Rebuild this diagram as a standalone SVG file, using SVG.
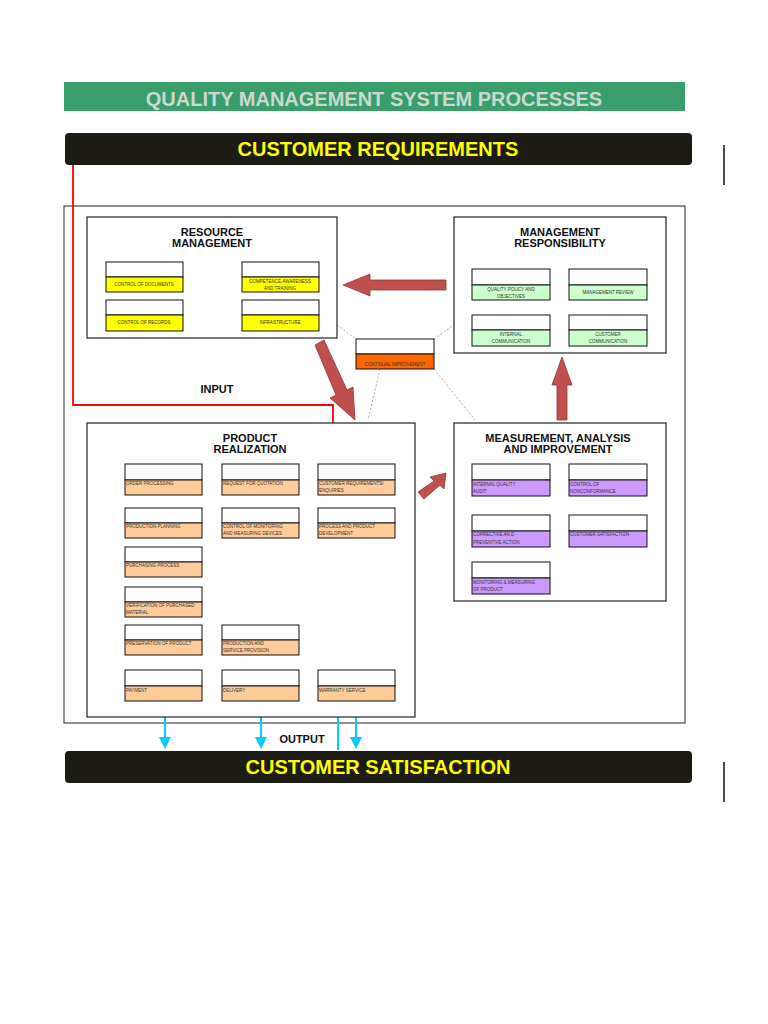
<svg xmlns="http://www.w3.org/2000/svg" width="768" height="1024" viewBox="0 0 768 1024">
<style>
text{font-family:"Liberation Sans",Arial,sans-serif}
.frame{fill:#fff;stroke:#222;stroke-width:1.2}
.t{font-weight:bold;font-size:11px;text-anchor:middle;fill:#111}
.s{font-size:4.5px;fill:#333}
.sc{font-size:4.5px;fill:#333;text-anchor:middle}
.top{fill:#fff;stroke:#111;stroke-width:1}
.y{fill:#ffff00;stroke:#111;stroke-width:1}
.g{fill:#ccffcc;stroke:#111;stroke-width:1}
.p{fill:#cc99ff;stroke:#111;stroke-width:1}
.o{fill:#ffcc99;stroke:#111;stroke-width:1}
.c{fill:#ff6600;stroke:#111;stroke-width:1}
.gl{stroke:#555;stroke-width:0.8;fill:none}
.gr{stroke:#aaa;stroke-width:1;fill:none}
.dot{stroke:#777;stroke-width:0.6;stroke-dasharray:2,2;fill:none}
.cy{stroke:#00ccff;stroke-width:2;fill:none}
.big{fill:#c0504d;stroke:#8b3a38;stroke-width:0.8}
</style>
<defs>
<marker id="ag" markerWidth="5" markerHeight="5" refX="4" refY="2.5" orient="auto"><path d="M0,0L5,2.5L0,5z" fill="#444"/></marker>
<marker id="ar" markerWidth="6" markerHeight="6" refX="5" refY="3" orient="auto"><path d="M0,0L6,3L0,6z" fill="#ff0000"/></marker>
<marker id="ac" markerWidth="6" markerHeight="6" refX="5" refY="3" orient="auto"><path d="M0,0L6,3L0,6z" fill="#00ccff"/></marker>
</defs>
<rect x="64" y="82" width="621" height="29" fill="#3a9e6a"/>
<text x="374" y="106" text-anchor="middle" font-size="20" font-weight="bold" fill="#c9d9d1">QUALITY MANAGEMENT SYSTEM PROCESSES</text>
<g id="customer-requirements"><rect x="65" y="133" width="627" height="32" rx="4" fill="#1c1b14"/>
<text x="378" y="156" text-anchor="middle" font-size="20" font-weight="bold" fill="#ffff00">CUSTOMER REQUIREMENTS</text></g>
<line x1="724" y1="145" x2="724" y2="185" stroke="#111" stroke-width="1.5"/>
<rect x="64" y="206" width="621" height="517" fill="none" stroke="#222" stroke-width="1"/>
<g id="connectors">
<path class="dot" d="M337,325L356,339M434,339L454,325M380,369L368,420M434,369L475,420"/>
<path d="M73,165V405H333V460" stroke="#ff0000" stroke-width="1.8" fill="none" marker-end="url(#ar)"/>
<path class="big" d="M446,280V290H370V296L343,285L370,274V280z"/>
<path class="big" d="M315,345L324,340L347,390L353,387L355,420L330,398L336,395z"/>
<path class="big" d="M557,420V385H552L562,357L572,385H567V420z"/>
<path class="big" d="M418,492L424,499L440,485L444,489L446,473L430,477L434,481z"/>
<path class="gl" d="M222,480H206" marker-end="url(#ag)"/>
<path class="gl" d="M318,480H300" marker-end="url(#ag)"/>
<path class="gl" d="M162,495V507M162,538V546M162,577V586M162,617V624" marker-end="url(#ag)"/>
<path class="gr" d="M260,538V623"/>
<path class="gl" d="M260,618V624" marker-end="url(#ag)"/>
<path class="gr" d="M355,538V636"/>
<path class="gl" d="M355,636H300"/>
<path class="gl" d="M202,641H221" marker-end="url(#ag)"/>
<path class="gl" d="M260,655V669" marker-end="url(#ag)"/>
<path class="gl" d="M222,686H204V684"/>
<path class="cy" d="M165,701V747" marker-end="url(#ac)"/>
<path class="cy" d="M261,701V747" marker-end="url(#ac)"/>
<path class="cy" d="M338,750V704" marker-end="url(#ac)"/>
<path class="cy" d="M356,701V747" marker-end="url(#ac)"/>
</g>
<text x="217" y="393" class="t" font-size="10">INPUT</text>
<text x="302" y="743" class="t" font-size="10">OUTPUT</text>
<g id="resource-management"><rect class="frame" x="87" y="217" width="250" height="121"/>
<text class="t" x="212" y="236">RESOURCE</text><text class="t" x="212" y="247">MANAGEMENT</text>
<rect class="top" x="106" y="262" width="77" height="15"/><rect class="y" x="106" y="277" width="77" height="15"/><text class="sc" x="144" y="286">CONTROL OF DOCUMENTS</text>
<rect class="top" x="242" y="262" width="77" height="15"/><rect class="y" x="242" y="277" width="77" height="15"/><text class="sc" x="280" y="283">COMPETENCE,AWARENESS</text><text class="sc" x="280" y="290">AND TRAINING</text>
<rect class="top" x="106" y="300" width="77" height="15"/><rect class="y" x="106" y="315" width="77" height="16"/><text class="sc" x="144" y="324">CONTROL OF RECORDS</text>
<rect class="top" x="242" y="300" width="77" height="15"/><rect class="y" x="242" y="315" width="77" height="16"/><text class="sc" x="280" y="324">INFRASTRUCTURE</text></g>
<g id="management-responsibility"><rect class="frame" x="454" y="217" width="212" height="136"/>
<text class="t" x="560" y="236">MANAGEMENT</text><text class="t" x="560" y="247">RESPONSIBILITY</text>
<rect class="top" x="472" y="269" width="78" height="16"/><rect class="g" x="472" y="285" width="78" height="15"/><text class="sc" x="511" y="291">QUALITY POLICY AND</text><text class="sc" x="511" y="298">OBJECTIVES</text>
<rect class="top" x="569" y="269" width="78" height="16"/><rect class="g" x="569" y="285" width="78" height="15"/><text class="sc" x="608" y="294">MANAGEMENT REVIEW</text>
<rect class="top" x="472" y="315" width="78" height="15"/><rect class="g" x="472" y="330" width="78" height="16"/><text class="sc" x="511" y="336">INTERNAL</text><text class="sc" x="511" y="343">COMMUNICATION</text>
<rect class="top" x="569" y="315" width="78" height="15"/><rect class="g" x="569" y="330" width="78" height="16"/><text class="sc" x="608" y="336">CUSTOMER</text><text class="sc" x="608" y="343">COMMUNICATION</text></g>
<g id="continual-improvement"><rect class="top" x="356" y="339" width="78" height="15"/><rect class="c" x="356" y="354" width="78" height="15"/><text class="sc" x="395" y="366" fill="#222">CONTINUAL IMPROVEMENT</text></g>
<g id="measurement"><rect class="frame" x="454" y="423" width="212" height="178"/>
<text class="t" x="558" y="442">MEASUREMENT, ANALYSIS</text><text class="t" x="558" y="453">AND IMPROVEMENT</text>
<rect class="top" x="472" y="464" width="78" height="16"/><rect class="p" x="472" y="480" width="78" height="16"/><text class="s" x="473" y="486">INTERNAL QUALITY</text><text class="s" x="473" y="493">AUDIT</text>
<rect class="top" x="569" y="464" width="78" height="16"/><rect class="p" x="569" y="480" width="78" height="16"/><text class="s" x="570" y="486">CONTROL OF</text><text class="s" x="570" y="493">NONCONFORMANCE</text>
<rect class="top" x="472" y="515" width="78" height="16"/><rect class="p" x="472" y="531" width="78" height="16"/><text class="s" x="473" y="536">CORRECTIVE AN D</text><text class="s" x="473" y="544">PREVENTIVE ACTION</text>
<rect class="top" x="569" y="515" width="78" height="16"/><rect class="p" x="569" y="531" width="78" height="16"/><text class="s" x="570" y="536">CUSTOMER SATISFACTION</text>
<rect class="top" x="472" y="562" width="78" height="16"/><rect class="p" x="472" y="578" width="78" height="16"/><text class="s" x="473" y="584">MONITORING &amp; MEASURING</text><text class="s" x="473" y="591">OF PRODUCT</text></g>
<g id="product-realization"><rect class="frame" x="87" y="423" width="328" height="294" fill="none"/>
<text class="t" x="250" y="442">PRODUCT</text><text class="t" x="250" y="453">REALIZATION</text>
<rect class="top" x="125" y="464" width="77" height="16"/><rect class="o" x="125" y="480" width="77" height="15"/><text class="s" x="126" y="485">ORDER PROCESSING</text>
<rect class="top" x="222" y="464" width="77" height="16"/><rect class="o" x="222" y="480" width="77" height="15"/><text class="s" x="223" y="485">REQUEST FOR QUOTATION</text>
<rect class="top" x="318" y="464" width="77" height="16"/><rect class="o" x="318" y="480" width="77" height="15"/><text class="s" x="319" y="485">CUSTOMER REQUIREMENTS/</text><text class="s" x="319" y="492">ENQUIRIES</text>
<rect class="top" x="125" y="508" width="77" height="15"/><rect class="o" x="125" y="523" width="77" height="15"/><text class="s" x="126" y="528">PRODUCTION PLANNING</text>
<rect class="top" x="222" y="508" width="77" height="15"/><rect class="o" x="222" y="523" width="77" height="15"/><text class="s" x="223" y="528">CONTROL OF  MONITORING</text><text class="s" x="223" y="535">AND MEASURING DEVICES</text>
<rect class="top" x="318" y="508" width="77" height="15"/><rect class="o" x="318" y="523" width="77" height="15"/><text class="s" x="319" y="528">PROCESS AND PRODUCT</text><text class="s" x="319" y="535">DEVELOPMENT</text>
<rect class="top" x="125" y="547" width="77" height="15"/><rect class="o" x="125" y="562" width="77" height="15"/><text class="s" x="126" y="567">PURCHASING PROCESS</text>
<rect class="top" x="125" y="587" width="77" height="15"/><rect class="o" x="125" y="602" width="77" height="15"/><text class="s" x="126" y="607">VERIFICATION OF PURCHASED</text><text class="s" x="126" y="614">MATERIAL</text>
<rect class="top" x="125" y="625" width="77" height="15"/><rect class="o" x="125" y="640" width="77" height="15"/><text class="s" x="126" y="645">PRESERVATION OF PRODUCT</text>
<rect class="top" x="222" y="625" width="77" height="15"/><rect class="o" x="222" y="640" width="77" height="15"/><text class="s" x="223" y="645">PRODUCTION AND</text><text class="s" x="223" y="652">SERVICE PROVISION</text>
<rect class="top" x="125" y="670" width="77" height="16"/><rect class="o" x="125" y="686" width="77" height="15"/><text class="s" x="126" y="692">PAYMENT</text>
<rect class="top" x="222" y="670" width="77" height="16"/><rect class="o" x="222" y="686" width="77" height="15"/><text class="s" x="223" y="692">DELIVERY</text>
<rect class="top" x="318" y="670" width="77" height="16"/><rect class="o" x="318" y="686" width="77" height="15"/><text class="s" x="319" y="692">WARRANTY SERVICE</text></g>
<g id="customer-satisfaction"><rect x="65" y="751" width="627" height="32" rx="4" fill="#1c1b14"/>
<text x="378" y="774" text-anchor="middle" font-size="20" font-weight="bold" fill="#ffff00">CUSTOMER SATISFACTION</text></g>
<line x1="724" y1="762" x2="724" y2="802" stroke="#111" stroke-width="1.5"/>
</svg>
